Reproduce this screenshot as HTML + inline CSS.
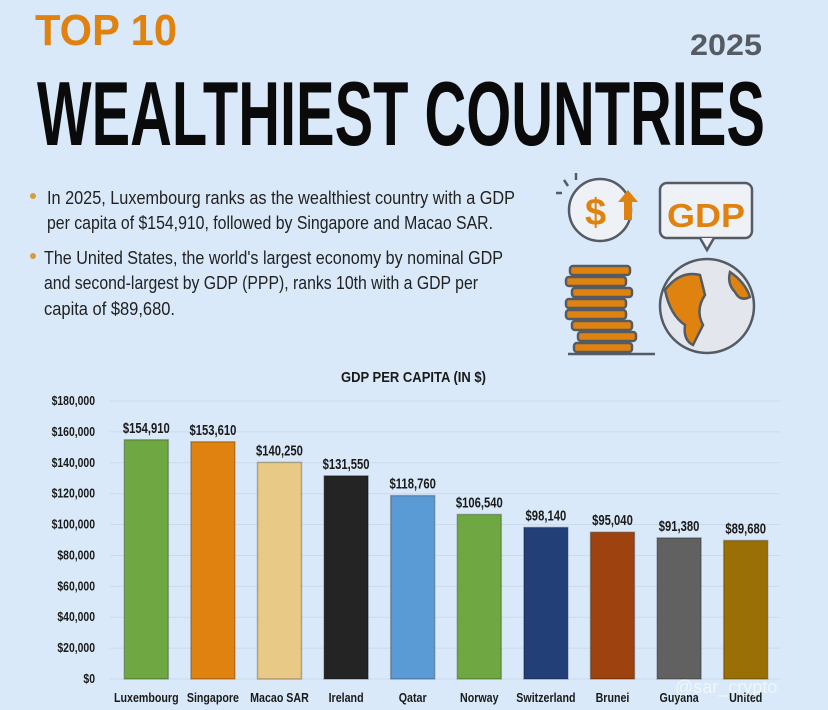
<!DOCTYPE html>
<html><head><meta charset="utf-8"><style>
html,body{margin:0;padding:0;background:#d9e9fa;}
svg{display:block;font-family:"Liberation Sans",sans-serif;}
</style></head><body>
<svg id="page" width="828" height="710" viewBox="0 0 828 710" xmlns="http://www.w3.org/2000/svg">
<rect width="828" height="710" fill="#d9e9fa"/>
<text x="35" y="45" font-family="Liberation Sans" font-weight="bold" font-size="44" fill="#e0820f" textLength="142" lengthAdjust="spacingAndGlyphs">TOP 10</text>
<text x="690" y="55" font-family="Liberation Sans" font-weight="bold" font-size="30" fill="#555b63" textLength="72" lengthAdjust="spacingAndGlyphs">2025</text>
<text x="37" y="145" font-family="Liberation Sans" font-weight="bold" font-size="91" fill="#0a0a0a" textLength="728" lengthAdjust="spacingAndGlyphs">WEALTHIEST COUNTRIES</text>
<g font-size="18" fill="#222">
<circle cx="33" cy="196" r="3" fill="#d99a3a"/>
<text x="47" y="204" textLength="468" lengthAdjust="spacingAndGlyphs">In 2025, Luxembourg ranks as the wealthiest country with a GDP</text>
<text x="47" y="229" textLength="446" lengthAdjust="spacingAndGlyphs">per capita of $154,910, followed by Singapore and Macao SAR.</text>
<circle cx="33" cy="256" r="3" fill="#d99a3a"/>
<text x="44" y="264" textLength="459" lengthAdjust="spacingAndGlyphs">The United States, the world's largest economy by nominal GDP</text>
<text x="44" y="289" textLength="434" lengthAdjust="spacingAndGlyphs">and second-largest by GDP (PPP), ranks 10th with a GDP per</text>
<text x="44" y="315" textLength="131" lengthAdjust="spacingAndGlyphs">capita of $89,680.</text>
</g>
<g stroke="#555b63" stroke-width="2.5">
<circle cx="600" cy="210" r="31" fill="#eef2f7"/>
<text x="585" y="225" font-family="Liberation Sans" font-weight="bold" font-size="38" fill="#e0820f" stroke="none">$</text>
<path d="M628 190 l-10 12 h6 v18 h8 v-18 h6 z" fill="#e0820f" stroke="none"/>
<line x1="556" y1="193" x2="562" y2="193"/><line x1="564" y1="180" x2="568" y2="186"/><line x1="576" y1="173" x2="576" y2="180"/>
<rect x="660" y="183" width="92" height="55" rx="7" fill="#eef2f7"/>
<path d="M700 238 l7 12 l7 -12" fill="#eef2f7"/>
<text x="667" y="227" font-family="Liberation Sans" font-weight="bold" font-size="33" fill="#e0820f" stroke="none" textLength="78" lengthAdjust="spacingAndGlyphs">GDP</text>
<circle cx="707" cy="306" r="47" fill="#e3e6ec"/>
<path d="M665 290 q15 -20 35 -15 l5 20 q-10 15 -2 30 l-10 20 q-10 -5 -8 -20 q-15 -10 -20 -35z" fill="#e0820f"/>
<path d="M730 272 q15 10 20 25 q-10 5 -15 -5 q-8 -8 -5 -20z" fill="#e0820f"/>
<g fill="#e0820f">
<rect x="570" y="266" width="60" height="9" rx="3"/><rect x="566" y="277" width="60" height="9" rx="3"/>
<rect x="572" y="288" width="60" height="9" rx="3"/><rect x="566" y="299" width="60" height="9" rx="3"/>
<rect x="566" y="310" width="60" height="9" rx="3"/><rect x="572" y="321" width="60" height="9" rx="3"/>
<rect x="578" y="332" width="58" height="9" rx="3"/><rect x="574" y="343" width="58" height="9" rx="3"/>
</g>
<line x1="568" y1="354" x2="655" y2="354"/>
</g>
<text x="341" y="382" font-weight="bold" font-size="15" fill="#1a1a1a" textLength="145" lengthAdjust="spacingAndGlyphs">GDP PER CAPITA (IN $)</text>
<g id="chart"></g>
<text x="675" y="693" font-family="Liberation Sans" font-size="18" fill="#ffffff" opacity="0.6">@sar_crypto</text>
</svg>
<script>
const categories = ["Luxembourg","Singapore","Macao SAR","Ireland","Qatar","Norway","Switzerland","Brunei","Guyana","United"];
const values = [154910,153610,140250,131550,118760,106540,98140,95040,91380,89680];
const valueLabels = ["$154,910","$153,610","$140,250","$131,550","$118,760","$106,540","$98,140","$95,040","$91,380","$89,680"];
const yTicks = [0,20000,40000,60000,80000,100000,120000,140000,160000,180000];
const yTickLabels = ["$0","$20,000","$40,000","$60,000","$80,000","$100,000","$120,000","$140,000","$160,000","$180,000"];
const colors = ["#6fa843","#e0820f","#e8c985","#242424","#5b9bd5","#6fa843","#233f78","#9e4310","#616161","#9a6f05"];

const NS = "http://www.w3.org/2000/svg";
const g = document.getElementById('chart');
const y0 = 679, y1 = 401, yMax = 180000;
const yScale = v => y0 - (v / yMax) * (y0 - y1);
const x0 = 113, step = 66.6, bw = 44;
const xCenter = i => x0 + step * i + step / 2;
function mk(tag, attrs, txt) {
  const e = document.createElementNS(NS, tag);
  for (const k in attrs) e.setAttribute(k, attrs[k]);
  if (txt !== undefined) e.textContent = txt;
  g.appendChild(e);
  return e;
}
function squeeze(e, f) {
  const w = e.getComputedTextLength();
  e.setAttribute('textLength', (w * f).toFixed(1));
  e.setAttribute('lengthAdjust', 'spacingAndGlyphs');
}
yTicks.forEach((t, i) => {
  const gl = mk('line', {x1: 110, x2: 780, y1: yScale(t), y2: yScale(t), stroke: '#cbdbee', 'stroke-width': 1});
  
  
  const lb = mk('text', {x: 95, y: yScale(t) + 4, 'text-anchor': 'end', 'font-weight': 'bold', 'font-size': 13, fill: '#1a1a1a'}, yTickLabels[i]);
  
  
  squeeze(lb, 0.8);
});
categories.forEach((c, i) => {
  const cx = xCenter(i), top = yScale(values[i]);
  const b = mk('rect', {x: cx - bw / 2, y: top, width: bw, height: y0 - top, fill: colors[i], stroke: 'rgba(0,0,0,0.25)', 'stroke-width': 1.5});
  
  
  const vl = mk('text', {x: cx, y: top - 7, 'text-anchor': 'middle', 'font-weight': 'bold', 'font-size': 15, fill: '#1a1a1a'}, valueLabels[i]);
  
  
  squeeze(vl, 0.75);
  const xl = mk('text', {x: cx, y: 702, 'text-anchor': 'middle', 'font-weight': 'bold', 'font-size': 13, fill: '#1a1a1a'}, c);
  
  
  squeeze(xl, 0.82);
});
</script>
</body></html>
